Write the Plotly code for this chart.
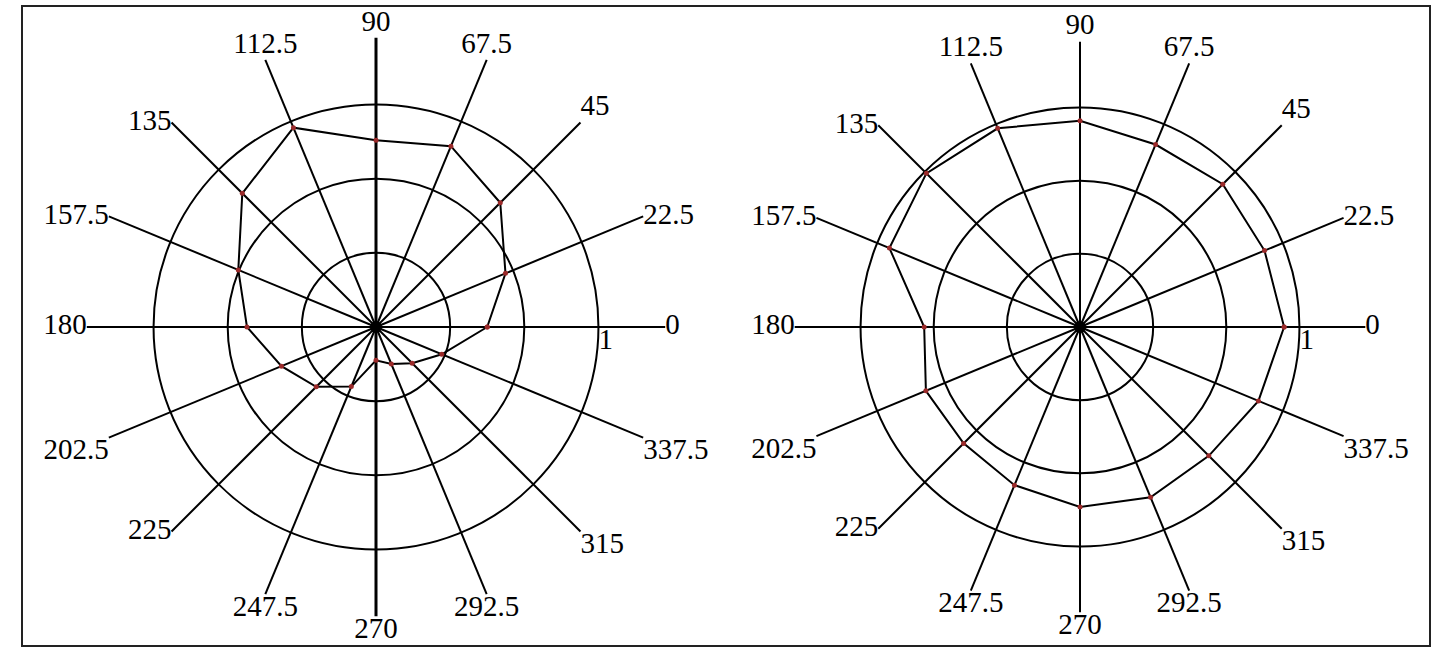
import plotly.graph_objects as go

# angles (degrees) and tick labels
angles = [0, 22.5, 45, 67.5, 90, 112.5, 135, 157.5, 180, 202.5, 225, 247.5, 270, 292.5, 315, 337.5]
angle_labels = ["0", "22.5", "45", "67.5", "90", "112.5", "135", "157.5", "180",
                "202.5", "225", "247.5", "270", "292.5", "315", "337.5"]
ring_values = [1/3, 2/3, 1.0]

# left pattern values (normalised)
left_r = [0.50, 0.63, 0.79, 0.88, 0.84, 0.97, 0.85, 0.67, 0.58, 0.46, 0.38, 0.29, 0.15, 0.18, 0.23, 0.32]
# right pattern values (normalised)
right_r = [0.93, 0.91, 0.92, 0.90, 0.94, 0.98, 0.99, 0.94, 0.71, 0.76, 0.75, 0.78, 0.82, 0.84, 0.83, 0.88]

SPOKE = 1.30
FONT = "Liberation Serif, Times New Roman, serif"
FSIZE = 29


def text_pos(a):
    if a in (90, 112.5, 67.5):
        return "top center"
    if a in (247.5, 270, 292.5):
        return "bottom center"
    if a == 45:
        return "top right"
    if a in (315, 337.5):
        return "bottom right"
    if a == 202.5:
        return "bottom left"
    if a < 90 or a > 270:
        return "middle right"
    return "middle left"


fig = go.Figure()


def add_panel(values, polar, vwidth):
    # spokes
    for a in angles:
        w = vwidth if a in (90, 270) else 2
        fig.add_trace(go.Scatterpolar(r=[0, SPOKE], theta=[a, a], mode="lines",
                                      line=dict(color="black", width=w), subplot=polar,
                                      showlegend=False, hoverinfo="skip"))
    # pattern polygon
    fig.add_trace(go.Scatterpolar(r=values + values[:1], theta=angles + angles[:1],
                                  mode="lines+markers",
                                  line=dict(color="black", width=2),
                                  marker=dict(color="#9b2a2a", size=5),
                                  subplot=polar, showlegend=False))
    # labels
    fig.add_trace(go.Scatterpolar(r=[SPOKE] * len(angles), theta=angles, mode="text",
                                  text=angle_labels,
                                  textposition=[text_pos(a) for a in angles],
                                  textfont=dict(family=FONT, size=FSIZE, color="black"),
                                  cliponaxis=False, subplot=polar, showlegend=False,
                                  hoverinfo="skip"))
    # radial tick "1"
    fig.add_trace(go.Scatterpolar(r=[1.0], theta=[0], mode="text", text=["1"],
                                  textposition="bottom right",
                                  textfont=dict(family=FONT, size=FSIZE, color="black"),
                                  cliponaxis=False, subplot=polar, showlegend=False,
                                  hoverinfo="skip"))
    # centre dot
    fig.add_trace(go.Scatterpolar(r=[0], theta=[0], mode="markers",
                                  marker=dict(color="black", size=12),
                                  subplot=polar, showlegend=False, hoverinfo="skip"))


add_panel(left_r, "polar", 3)
add_panel(right_r, "polar2", 2)

W, H = 1449, 654


def polar_layout(cx, rmax):
    half = H / 2
    return dict(
        domain=dict(x=[(cx - half) / W, (cx + half) / W], y=[0, 1]),
        bgcolor="white",
        radialaxis=dict(range=[0, rmax], tickvals=ring_values, showticklabels=False,
                        ticks="", showline=False, showgrid=True,
                        gridcolor="black", gridwidth=2),
        angularaxis=dict(showgrid=False, showline=False, showticklabels=False, ticks=""),
    )


fig.update_layout(
    width=W, height=H,
    margin=dict(l=0, r=0, t=0, b=0),
    paper_bgcolor="white", plot_bgcolor="white",
    polar=polar_layout(376, 1.47),
    polar2=polar_layout(1080, 1.49),
    shapes=[dict(type="rect", xref="paper", yref="paper",
                 x0=22 / W, x1=1430 / W, y0=1 - 646 / H, y1=1 - 6 / H,
                 line=dict(color="#222", width=2))],
)

fig.write_html("out.html", config={"displayModeBar": False},
               post_script="document.body.style.margin='0';document.body.style.overflow='hidden';")
